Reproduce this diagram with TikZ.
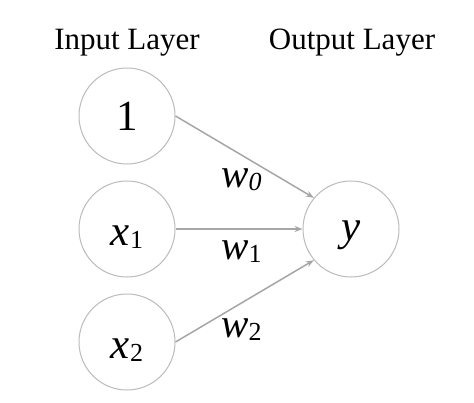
\documentclass[tikz,border=0pt]{standalone}
\usepackage{fontspec}
\setmainfont{Liberation Serif}
\usetikzlibrary{arrows.meta}
\definecolor{ringgray}{HTML}{BBBBBB}
\definecolor{arrowgray}{HTML}{A6A6A6}
\newcommand\nsub[1]{\raisebox{-3pt}{\fontsize{26}{26}\selectfont #1}}
\begin{document}
\begin{tikzpicture}[x=1pt,y=-1pt,
  neuron/.style={circle,draw=ringgray,line width=1pt,minimum size=96pt,inner sep=0pt,font=\fontsize{43}{43}\selectfont,text depth=0pt},
  drop/.style={text height=#1},
  title/.style={font=\fontsize{31}{31}\selectfont,anchor=base},
  conn/.style={draw=arrowgray,line width=1.5pt,-{Stealth[length=8pt,width=6pt]}},
  wlabel/.style={font=\fontsize{41}{41}\selectfont,inner sep=0pt,anchor=base west}]
\useasboundingbox (0,0) rectangle (474,402);
\node[title] (tin) at (127,49) {Input Layer};
\node[title] (tout) at (352,49) {Output Layer};
\node[neuron,drop=28pt] (n1) at (127,116) {1};
\node[neuron,drop=32pt] (x1) at (127,229) {\textit{x}\nsub{1}};
\node[neuron,drop=32pt] (x2) at (127,342) {\textit{x}\nsub{2}};
\node[neuron,drop=22pt] (y) at (351,229) {\textit{y}};
\draw[conn] (n1.east) -- (y.140);
\draw[conn] (x1.east) -- (y.west);
\draw[conn] (x2.east) -- (y.220);
\node[wlabel] (w0) at (221,187) {\textit{w}\nsub{\textit{0}}};
\node[wlabel] (w1) at (221,259) {\textit{w}\nsub{1}};
\node[wlabel] (w2) at (221,337) {\textit{w}\nsub{2}};
\end{tikzpicture}
\end{document}
